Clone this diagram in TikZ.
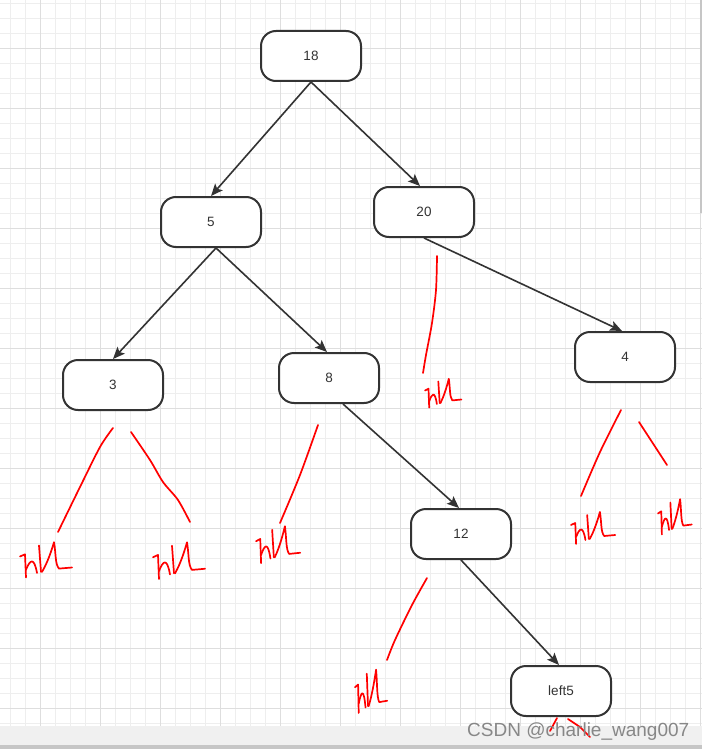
\documentclass[tikz,border=0pt]{standalone}
\usepackage{fontspec}
\setmainfont{Liberation Sans}
\usetikzlibrary{arrows.meta}
\definecolor{gridminor}{RGB}{238,238,238}
\definecolor{gridmajor}{RGB}{222,222,222}
\definecolor{ink}{RGB}{51,51,51}
\definecolor{pen}{RGB}{255,0,0}
\definecolor{wmgray}{RGB}{135,135,135}
\definecolor{barlight}{RGB}{240,240,240}
\definecolor{bardark}{RGB}{198,198,198}
\tikzset{
  treenode/.style={draw=ink, fill=white, line width=2pt, rounded corners=15pt,
    minimum width=100pt, minimum height=50pt, inner sep=0pt, text=ink,
    font=\fontsize{13.5}{15}\selectfont},
  edge/.style={draw=ink, line width=1.6pt, -{Stealth[length=12pt,width=10pt,inset=2.5pt]}},
  nilpen/.style={draw=pen, line width=1.7pt, line cap=round, line join=round},
}
\newcommand\nilglyph[4]{%
  \begin{scope}[shift={(#1,#2)}, xscale=#3, yscale=#4]
    \draw[nilpen] (0,15) -- (5,13) -- (6,34);
    \draw[nilpen] (6,27) .. controls (10,18) and (14,15) .. (17,30);
    \draw[nilpen] (19,5) -- (21,29);
    \draw[nilpen] (22,29) .. controls (28,20) and (32,8) .. (34,2) .. controls (36,12) and (35,22) .. (39,26) -- (52,25);
  \end{scope}}
\begin{document}
\begin{tikzpicture}[x=1pt, y=-1pt]
\useasboundingbox (0,0) rectangle (702,749);
\fill[white] (0,0) rectangle (702,749);
% grid
\foreach \i in {0,...,46} {\draw[gridminor, line width=1pt] ({10+15*\i},0) -- ({10+15*\i},726);}
\foreach \i in {0,...,48} {\draw[gridminor, line width=1pt] (0,{3.3+15*\i}) -- (702,{3.3+15*\i});}
\foreach \i in {0,...,11} {\draw[gridmajor, line width=1pt] ({40+60*\i},0) -- ({40+60*\i},726);}
\foreach \i in {0,...,11} {\draw[gridmajor, line width=1pt] (0,{48.3+60*\i}) -- (702,{48.3+60*\i});}
\draw[bardark, line width=1.5pt] (701,0) -- (701,213);

% nodes
\node[treenode] (n18) at (311,56) {18};
\node[treenode] (n5) at (211,222) {5};
\node[treenode] (n20) at (424,212) {20};
\node[treenode] (n3) at (113,385) {3};
\node[treenode] (n8) at (329,378) {8};
\node[treenode] (n4) at (625,357) {4};
\node[treenode] (n12) at (461,534) {12};
\node[treenode] (nl5) at (561,691) {left5};

% connectors
\draw[edge] (n18.south) -- (n5.north);
\draw[edge] (n18.south) -- ([xshift=-4pt]n20.north);
\draw[edge] ([xshift=5pt]n5.south) -- (n3.north);
\draw[edge] ([xshift=5pt]n5.south) -- ([xshift=-2pt]n8.north);
\draw[edge] (n20.south) -- ([xshift=-3pt]n4.north);
\draw[edge] ([xshift=14pt]n8.south) -- ([xshift=-2pt]n12.north);
\draw[edge] (n12.south) -- ([xshift=-2pt]nl5.north);

% red hand-drawn nil branches
\draw[nilpen] plot[smooth] coordinates {(113,428) (100,447) (80,487) (58,532)};
\nilglyph{20}{540}{1.0}{1.1}
\draw[nilpen] plot[smooth] coordinates {(131,432) (150,460) (163,482) (178,500) (190,522)};
\nilglyph{153}{540}{1.0}{1.15}
\draw[nilpen] plot[smooth] coordinates {(318,425) (300,475) (280,523)};
\nilglyph{256}{524}{0.85}{1.15}
\draw[nilpen] plot[smooth] coordinates {(427,578) (412,605) (395,640) (387,660)};
\nilglyph{355}{667}{0.62}{1.35}
\draw[nilpen] plot[smooth] coordinates {(437,256) (436,290) (432,323) (426,355) (423,373)};
\nilglyph{425}{377}{0.7}{0.9}
\draw[nilpen] plot[smooth] coordinates {(621,410) (600,452) (581,496)};
\nilglyph{571}{510}{0.85}{1.0}
\draw[nilpen] (639,422) -- (667,465);
\nilglyph{658}{497}{0.65}{1.1}

% bottom bar
\fill[barlight] (0,726) rectangle (702,745);
\fill[bardark] (0,745) rectangle (702,749);
\draw[nilpen] (557,718) -- (550,731);
\draw[nilpen] (568,719) -- (580,727) -- (590,737);

% watermark
\node[anchor=base west, inner sep=0pt, text=wmgray, font=\fontsize{19}{22}\selectfont] (wm) at (467,736) {CSDN @charlie\_wang007};
\end{tikzpicture}
\end{document}
